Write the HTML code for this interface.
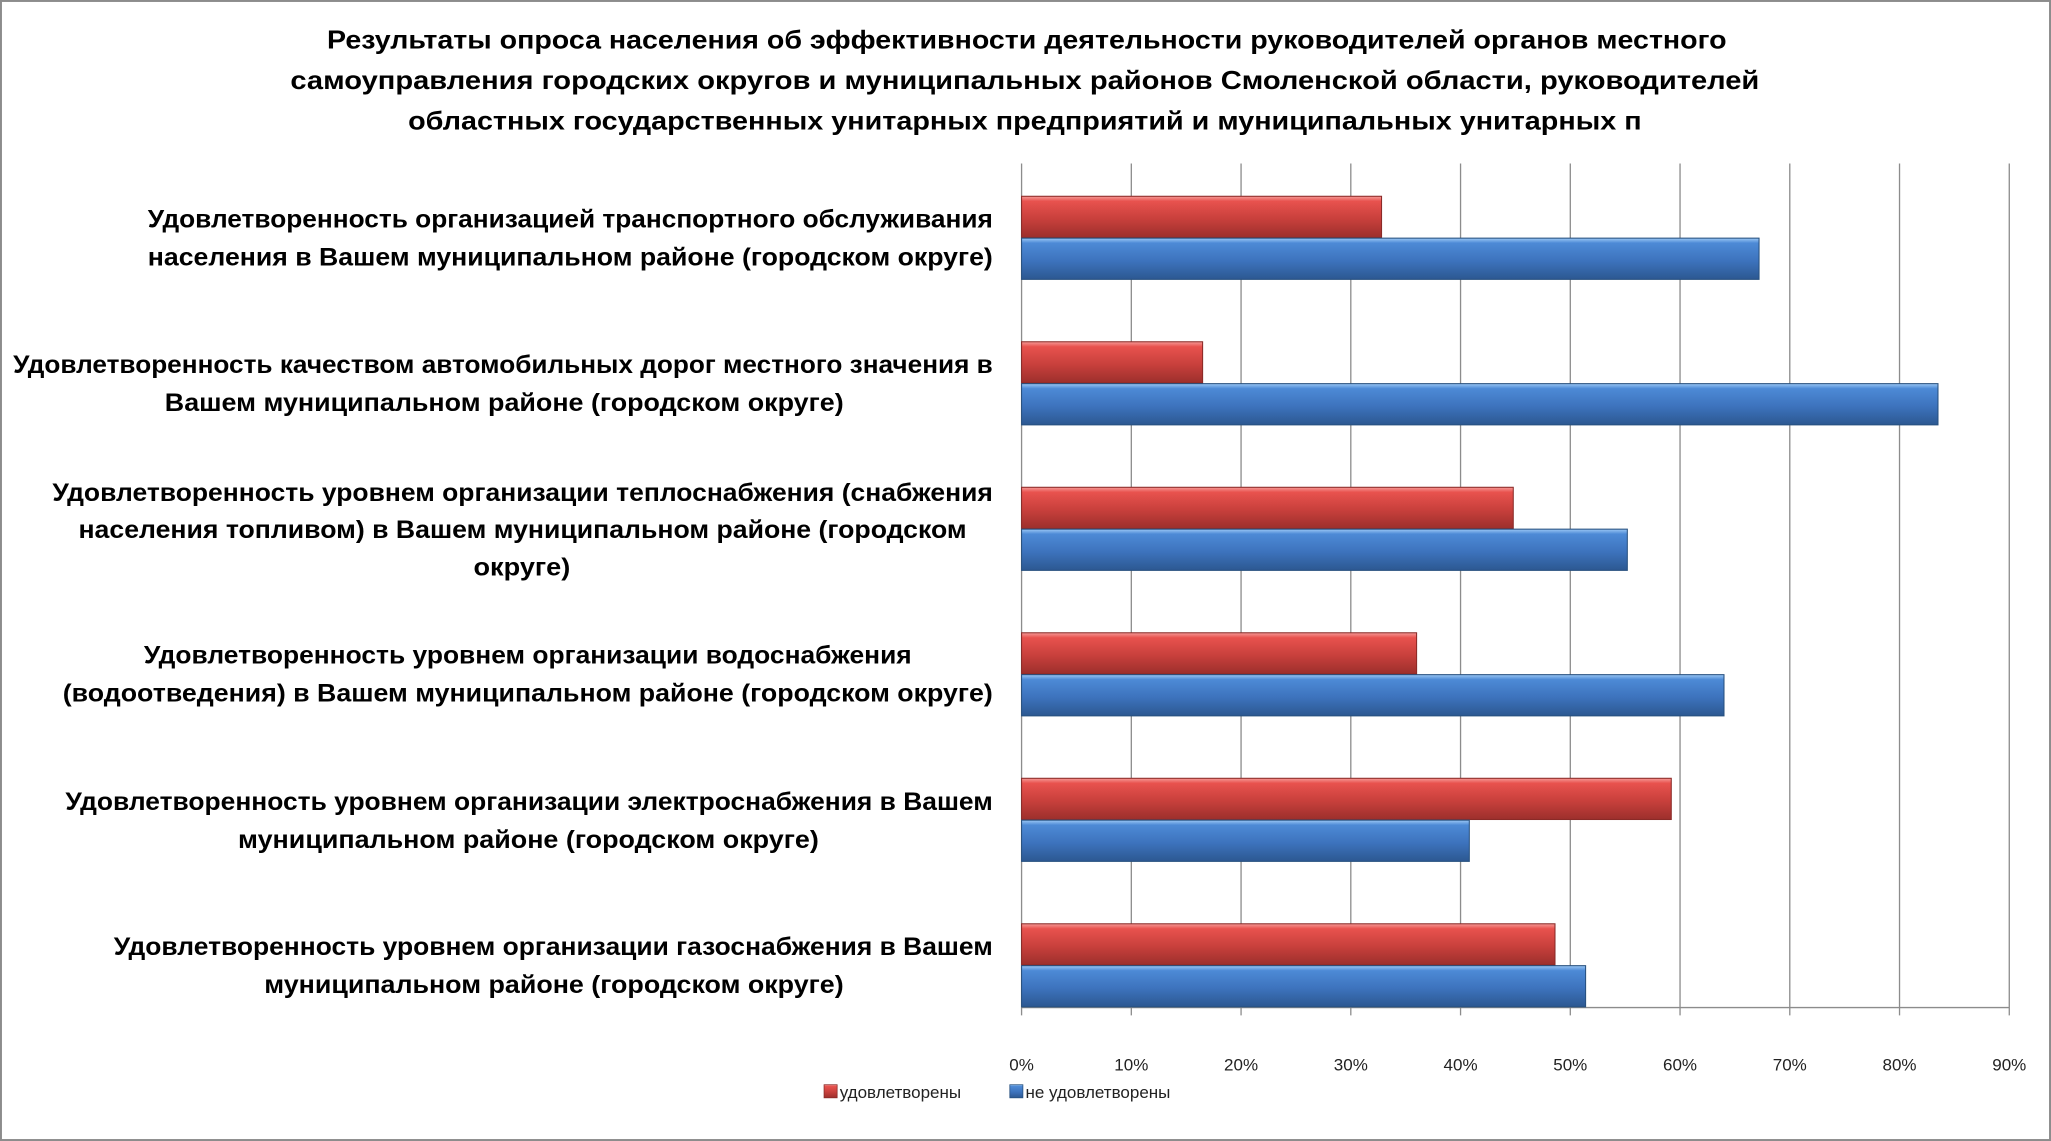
<!DOCTYPE html>
<html><head><meta charset="utf-8"><style>
html,body{margin:0;padding:0;background:#fff;}
svg{display:block;}
text{font-family:"Liberation Sans","DejaVu Sans",sans-serif;}
</style></head><body>
<svg width="2051" height="1141" viewBox="0 0 1568 872" preserveAspectRatio="none" xmlns="http://www.w3.org/2000/svg">
<defs>
<linearGradient id="r" x1="0" y1="0" x2="0" y2="1">
<stop offset="0" stop-color="#f59a97"/><stop offset="0.12" stop-color="#e8524e"/><stop offset="0.55" stop-color="#c8403c"/><stop offset="1" stop-color="#9c2f2c"/></linearGradient>
<linearGradient id="b" x1="0" y1="0" x2="0" y2="1">
<stop offset="0" stop-color="#9cc8f5"/><stop offset="0.12" stop-color="#4d8ad6"/><stop offset="0.55" stop-color="#3d73bd"/><stop offset="1" stop-color="#2c5891"/></linearGradient>
</defs>
<rect x="0.75" y="0.75" width="1566.5" height="870.5" fill="#fff" stroke="#8c8c8c" stroke-width="1.5"/>
<g font-weight="bold" font-size="20" fill="#000">
<text x="250" y="37" textLength="1070" lengthAdjust="spacingAndGlyphs">Результаты опроса населения об эффективности деятельности руководителей органов местного</text>
<text x="222" y="68" textLength="1123" lengthAdjust="spacingAndGlyphs">самоуправления городских округов и муниципальных районов Смоленской области, руководителей</text>
<text x="312" y="99" textLength="943" lengthAdjust="spacingAndGlyphs">областных государственных унитарных предприятий и муниципальных унитарных п</text>
</g>
<g stroke="#8c8c8c" stroke-width="1">
<line x1="864.9" y1="125" x2="864.9" y2="770"/><line x1="948.8" y1="125" x2="948.8" y2="770"/><line x1="1032.7" y1="125" x2="1032.7" y2="770"/><line x1="1116.6" y1="125" x2="1116.6" y2="770"/><line x1="1200.5" y1="125" x2="1200.5" y2="770"/><line x1="1284.4" y1="125" x2="1284.4" y2="770"/><line x1="1368.3" y1="125" x2="1368.3" y2="770"/><line x1="1452.2" y1="125" x2="1452.2" y2="770"/><line x1="1536.1" y1="125" x2="1536.1" y2="770"/>
<line x1="781" y1="125" x2="781" y2="776"/>
<line x1="781" y1="770" x2="1536.1" y2="770"/>
<line x1="864.9" y1="770" x2="864.9" y2="776"/><line x1="948.8" y1="770" x2="948.8" y2="776"/><line x1="1032.7" y1="770" x2="1032.7" y2="776"/><line x1="1116.6" y1="770" x2="1116.6" y2="776"/><line x1="1200.5" y1="770" x2="1200.5" y2="776"/><line x1="1284.4" y1="770" x2="1284.4" y2="776"/><line x1="1368.3" y1="770" x2="1368.3" y2="776"/><line x1="1452.2" y1="770" x2="1452.2" y2="776"/><line x1="1536.1" y1="770" x2="1536.1" y2="776"/>
</g>
<g stroke-width="0.8">
<rect x="781" y="150" width="275.2" height="31.5" fill="url(#r)" stroke="#8a2a27"/>
<rect x="781" y="182" width="563.8" height="31.5" fill="url(#b)" stroke="#27507f"/>
<rect x="781" y="261.2" width="138.4" height="31.5" fill="url(#r)" stroke="#8a2a27"/>
<rect x="781" y="293.2" width="700.6" height="31.5" fill="url(#b)" stroke="#27507f"/>
<rect x="781" y="372.4" width="375.9" height="31.5" fill="url(#r)" stroke="#8a2a27"/>
<rect x="781" y="404.4" width="463.1" height="31.5" fill="url(#b)" stroke="#27507f"/>
<rect x="781" y="483.6" width="302" height="31.5" fill="url(#r)" stroke="#8a2a27"/>
<rect x="781" y="515.6" width="537" height="31.5" fill="url(#b)" stroke="#27507f"/>
<rect x="781" y="594.8" width="496.7" height="31.5" fill="url(#r)" stroke="#8a2a27"/>
<rect x="781" y="626.8" width="342.3" height="31.5" fill="url(#b)" stroke="#27507f"/>
<rect x="781" y="706" width="407.8" height="31.5" fill="url(#r)" stroke="#8a2a27"/>
<rect x="781" y="738" width="431.2" height="31.5" fill="url(#b)" stroke="#27507f"/>
</g>
<g font-weight="bold" font-size="19" fill="#000">
<text x="113" y="174" textLength="646" lengthAdjust="spacingAndGlyphs">Удовлетворенность организацией транспортного обслуживания</text>
<text x="113" y="203" textLength="646" lengthAdjust="spacingAndGlyphs">населения в Вашем муниципальном районе (городском округе)</text>
<text x="10" y="285" textLength="749" lengthAdjust="spacingAndGlyphs">Удовлетворенность качеством автомобильных дорог местного значения в</text>
<text x="126" y="314" textLength="519" lengthAdjust="spacingAndGlyphs">Вашем муниципальном районе (городском округе)</text>
<text x="40" y="383" textLength="719" lengthAdjust="spacingAndGlyphs">Удовлетворенность уровнем организации теплоснабжения (снабжения</text>
<text x="60" y="411" textLength="679" lengthAdjust="spacingAndGlyphs">населения топливом) в Вашем муниципальном районе (городском</text>
<text x="362" y="440" textLength="74" lengthAdjust="spacingAndGlyphs">округе)</text>
<text x="110" y="507" textLength="587" lengthAdjust="spacingAndGlyphs">Удовлетворенность уровнем организации водоснабжения</text>
<text x="48" y="536" textLength="711" lengthAdjust="spacingAndGlyphs">(водоотведения) в Вашем муниципальном районе (городском округе)</text>
<text x="50" y="619" textLength="709" lengthAdjust="spacingAndGlyphs">Удовлетворенность уровнем организации электроснабжения в Вашем</text>
<text x="182" y="648" textLength="444" lengthAdjust="spacingAndGlyphs">муниципальном районе (городском округе)</text>
<text x="87" y="730" textLength="672" lengthAdjust="spacingAndGlyphs">Удовлетворенность уровнем организации газоснабжения в Вашем</text>
<text x="202" y="759" textLength="443" lengthAdjust="spacingAndGlyphs">муниципальном районе (городском округе)</text>
</g>
<g font-size="13" fill="#222" text-anchor="middle">
<text x="781" y="818">0%</text><text x="864.9" y="818">10%</text><text x="948.8" y="818">20%</text><text x="1032.7" y="818">30%</text><text x="1116.6" y="818">40%</text><text x="1200.5" y="818">50%</text><text x="1284.4" y="818">60%</text><text x="1368.3" y="818">70%</text><text x="1452.2" y="818">80%</text><text x="1536.1" y="818">90%</text>
</g>
<rect x="630" y="829" width="10" height="10" fill="url(#r)" stroke="#8a2a27" stroke-width="0.6"/>
<rect x="772" y="829" width="10" height="10" fill="url(#b)" stroke="#27507f" stroke-width="0.6"/>
<g font-size="13" fill="#222">
<text x="642" y="839">удовлетворены</text>
<text x="784" y="839">не удовлетворены</text>
</g>
</svg>
</body></html>
